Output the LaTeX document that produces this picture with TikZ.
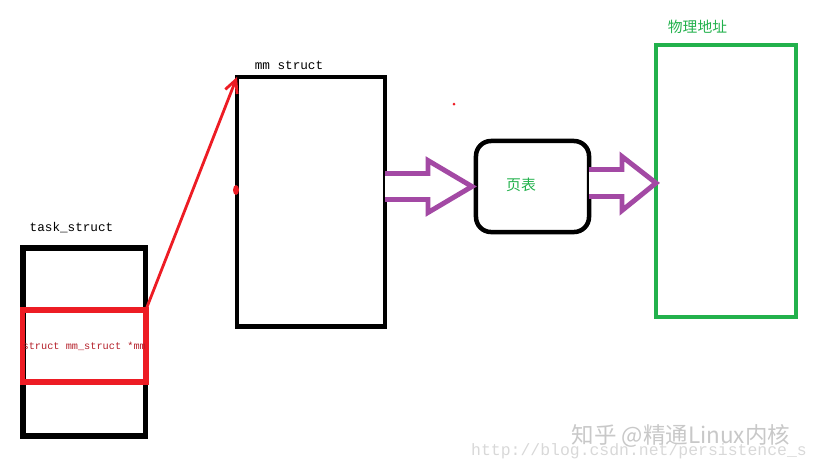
\documentclass[tikz,border=0pt]{standalone}
\usepackage{fontspec}
\setmonofont{Liberation Mono}
\newfontfamily\cjk{Noto Sans CJK SC}
\usetikzlibrary{arrows.meta,calc}
\definecolor{paintred}{HTML}{ED1C24}
\definecolor{paintgreen}{HTML}{22B14C}
\definecolor{paintpurple}{HTML}{A349A4}
\definecolor{ptrtext}{HTML}{B4202A}
\definecolor{markgray}{HTML}{C8C8C8}

\begin{document}
\begin{tikzpicture}[x=0.025cm, y=-0.025cm,
    box/.style={draw, rectangle, inner sep=0pt, outer sep=0pt},
    blockarrow/.style={draw=paintpurple, line width=3.5pt, fill=white, line join=miter},
    lbl/.style={font=\ttfamily\fontsize{9}{10}\selectfont}]
    \useasboundingbox (0,0) rectangle (821,470);

    % Watermarks
    \node[text=markgray!70, font=\ttfamily\fontsize{11.7}{12}\selectfont] (wmcsdn) at (639,451) {http://blog.csdn.net/persistence\_s};
    \node[text=markgray, font=\cjk\fontsize{16}{17}\selectfont] (wmzhihu) at (681,436) {知乎 @精通Linux内核};

    % task_struct
    \node[box, line width=4.2pt, minimum width=3.06cm, minimum height=4.7cm] (task) at (84.25,342) {};
    \node[lbl] (tasklbl) at (71.5,228) {task\_struct};
    \node[box, draw=paintred, line width=4pt, minimum width=3.06cm, minimum height=1.8cm,
          text=ptrtext, font=\ttfamily\fontsize{7.3}{8}\selectfont] (ptr) at (84.25,346) {struct mm\_struct *mm};

    % mm_struct
    \node[box, line width=3.5pt, minimum width=3.7cm, minimum height=6.225cm] (mm) at (311,201.5) {};
    \node[lbl] (mmlbl) at (289,65) {mm struct};

    % Page table
    \node[box, line width=3.2pt, rounded corners=0.375cm, minimum width=2.825cm, minimum height=2.275cm] (pgd) at (532.5,186.5) {};
    \node[text=paintgreen, font=\cjk\fontsize{10.6}{12}\selectfont] (pgdlbl) at (521,185) {页表};

    % Physical memory
    \node[box, draw=paintgreen, line width=3pt, minimum width=3.5cm, minimum height=6.8cm] (phys) at (726,181) {};
    \node[text=paintgreen, font=\cjk\fontsize{10.5}{12}\selectfont] (physlbl) at (697.5,27) {物理地址};

    % Pointer to mm_struct
    \draw[paintred, line width=2pt, -{Straight Barb[length=9pt, width=9pt]}] (ptr.north east) -- (mm.north west);

    % Stray marks
    \fill[paintred] (236,190) ellipse (3 and 5);
    \fill[paintred] (454,104) circle (1.5);

    % Block arrows
    \draw[blockarrow] ($(mm.east |- pgd.west)+(0,-13)$) -- ++(43,0) -- ++(0,-13)
        -- ($(pgd.west)+(-4,0)$) -- ($(mm.east |- pgd.west)+(43,26)$) -- ++(0,-13) -- ++(-43,0);
    \draw[blockarrow] ($(pgd.east)+(0,-17)$) -- ++(33,0) -- ++(0,-13)
        -- ($(phys.west)+(0,2)$) -- ($(pgd.east)+(33,24)$) -- ++(0,-14) -- ++(-33,0);
\end{tikzpicture}
\end{document}
